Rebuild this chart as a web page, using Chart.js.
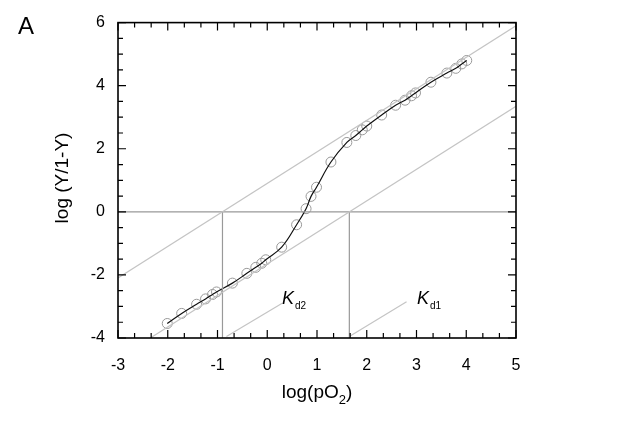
<!DOCTYPE html><html><head><meta charset="utf-8">
<script src="https://cdn.jsdelivr.net/npm/chart.js@4"></script>
<style>body{margin:0;background:#fff}</style></head><body>
<canvas id="c" width="630" height="423"></canvas>
<script>
const xTicks=[-3,-2,-1,0,1,2,3,4,5];
const yTicks=[-4,-2,0,2,4,6];
const logPO2=[-2.01,-1.72,-1.42,-1.24,-1.10,-1.02,-0.70,-0.41,-0.23,-0.11,-0.03,0.29,0.59,0.78,0.88,0.99,1.28,1.60,1.78,1.91,2.00,2.30,2.58,2.77,2.90,2.98,3.29,3.61,3.79,3.91,4.01];
const logY=[-3.54,-3.22,-2.93,-2.76,-2.62,-2.54,-2.26,-1.95,-1.76,-1.63,-1.52,-1.12,-0.41,0.10,0.49,0.78,1.58,2.20,2.42,2.60,2.72,3.07,3.38,3.54,3.68,3.77,4.11,4.40,4.55,4.69,4.80];
const upperLineX=[-3,5], upperLineY=[-2.1,5.9];
const lowerLineX=[-2.35,5], lowerLineY=[-4,3.35];
const kd2=-0.9, kd1=1.65;
const kd2MarkX=[-0.82,0.3], kd2MarkY=[-3.95,-2.9];
const kd1MarkX=[1.65,2.8], kd1MarkY=[-3.95,-2.85];
const pts=(xs,ys)=>xs.map((x,i)=>({x,y:ys[i]}));
const gl={type:'line',borderColor:'#c4c4c4',borderWidth:1.2,pointRadius:0,fill:false};
const dl={type:'line',borderColor:'#999',borderWidth:1.2,pointRadius:0,fill:false};
const tickPlugin={id:'tk',afterDraw(ch){
 const c=ch.ctx,a=ch.chartArea,xs=ch.scales.x,ys=ch.scales.y;
 c.save();c.strokeStyle='#000';c.lineWidth=1.2;c.beginPath();
 for(let v=-3;v<=5.001;v+=1/3){const p=xs.getPixelForValue(v);const L=Math.abs(v-Math.round(v))<0.01?8:5;
  c.moveTo(p,a.bottom);c.lineTo(p,a.bottom-L);c.moveTo(p,a.top);c.lineTo(p,a.top+L);}
 for(let v=-4;v<=6.001;v+=0.5){const p=ys.getPixelForValue(v);const L=Math.abs(v/2-Math.round(v/2))<0.01?8:5;
  c.moveTo(a.left,p);c.lineTo(a.left+L,p);c.moveTo(a.right,p);c.lineTo(a.right-L,p);}
 c.stroke();
 c.lineWidth=1.6;c.strokeRect(a.left,a.top,a.right-a.left,a.bottom-a.top);
 c.fillStyle='#000';c.font='24px "Liberation Sans"';c.textBaseline='alphabetic';c.textAlign='left';c.fillText('A',18,34);
 c.font='19px "Liberation Sans"';
 const w1=c.measureText('log(pO').width;c.font='13px "Liberation Sans"';const w2=c.measureText('2').width;
 c.font='19px "Liberation Sans"';const w3=c.measureText(')').width;
 let x0=317-(w1+w2+w3)/2;
 c.fillText('log(pO',x0,398);c.font='13px "Liberation Sans"';c.fillText('2',x0+w1,404);
 c.font='19px "Liberation Sans"';c.fillText(')',x0+w1+w2,398);
 c.textAlign='center';
 c.save();c.translate(68,178);c.rotate(-Math.PI/2);c.fillText('log (Y/1-Y)',0,0);c.restore();
 c.textAlign='left';
 const K=(x,y,s)=>{c.font='italic 18px "Liberation Sans"';c.fillText('K',x,y);c.font='10px "Liberation Sans"';c.fillText(s,x+13,y+5);};
 K(282,304,'d2');K(417,304,'d1');
 c.restore();}};
new Chart(document.getElementById('c'),{
 data:{datasets:[
  {...gl,data:pts(upperLineX,upperLineY)},
  {...gl,data:pts(lowerLineX,lowerLineY)},
  {...gl,data:pts(kd2MarkX,kd2MarkY)},
  {...gl,data:pts(kd1MarkX,kd1MarkY)},
  {...dl,data:pts([-3,5],[0,0])},
  {...dl,data:pts([kd2,kd2],[0,-4])},
  {...dl,data:pts([kd1,kd1],[0,-4])},
  {type:'line',data:pts(logPO2,logY),borderColor:'#111',borderWidth:1.2,tension:0.4,pointRadius:0,fill:false},
  {type:'scatter',data:pts(logPO2,logY),pointRadius:5,pointBorderColor:'#999',pointBackgroundColor:'rgba(0,0,0,0)',pointBorderWidth:1}
 ]},
 options:{responsive:false,animation:false,
  layout:{padding:{left:0,top:20,right:114,bottom:0}},
  plugins:{legend:{display:false},tooltip:{enabled:false}},
  scales:{
   x:{type:'linear',min:-3,max:5,afterBuildTicks:s=>{s.ticks=xTicks.map(v=>({value:v}))},
      afterFit:s=>{s.height=85},grid:{display:false,drawTicks:false},border:{display:false},
      ticks:{padding:18,color:'#000',font:{size:16,family:'Liberation Sans'}}},
   y:{type:'linear',min:-4,max:6,afterBuildTicks:s=>{s.ticks=yTicks.map(v=>({value:v}))},
      afterFit:s=>{s.width=118},grid:{display:false,drawTicks:false},border:{display:false},
      ticks:{padding:13,color:'#000',font:{size:16,family:'Liberation Sans'}}}
  }},
 plugins:[tickPlugin]});
</script></body></html>
